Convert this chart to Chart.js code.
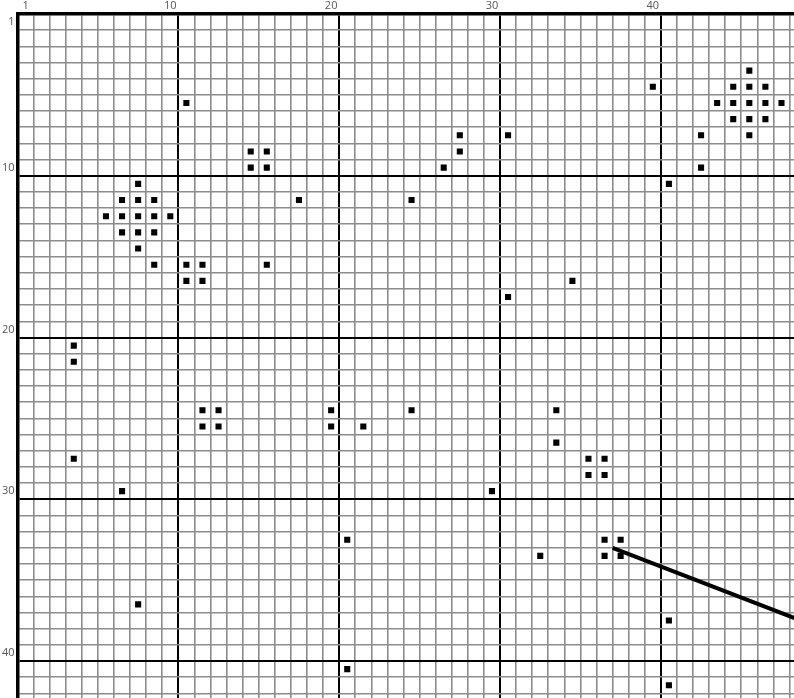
<!DOCTYPE html>
<html>
<head>
<meta charset="utf-8">
<script src="https://cdn.jsdelivr.net/npm/chart.js@4"></script>
<style>
html, body { margin: 0; padding: 0; background: #fff; overflow: hidden; }
canvas { display: block; }
</style>
</head>
<body>
<canvas id="patternChart" width="826" height="730"></canvas>
<script>
// stitches: column and row of every filled cell (counted from 1)
const stitchCols = [46, 40, 45, 46, 47, 11, 44, 45, 46, 47, 48, 45, 46, 47, 28, 31, 43, 46,
    15, 16, 28, 15, 16, 27, 43, 8, 41, 7, 8, 9, 18, 25, 6, 7, 8, 9, 10, 7, 8, 9, 8,
    9, 11, 12, 16, 11, 12, 35, 31, 4, 4, 12, 13, 20, 25, 34, 12, 13, 20, 22, 34,
    4, 36, 37, 36, 37, 7, 30, 21, 37, 38, 33, 37, 38, 8, 41, 21, 41];
const stitchRows = [4, 5, 5, 5, 5, 6, 6, 6, 6, 6, 6, 7, 7, 7, 8, 8, 8, 8,
    9, 9, 9, 10, 10, 10, 10, 11, 11, 12, 12, 12, 12, 12, 13, 13, 13, 13, 13, 14, 14, 14, 15,
    16, 16, 16, 16, 17, 17, 17, 18, 21, 22, 25, 25, 25, 25, 25, 26, 26, 26, 26, 27,
    28, 28, 28, 29, 29, 30, 30, 33, 33, 33, 34, 34, 34, 37, 38, 41, 42];

// back-stitch line (x.5 = edge between two cells)
const lineCols = [37.5, 50.5];
const lineRows = [33.5, 38.5];

// numbers printed along the edges
const colLabels = [1, 10, 20, 30, 40];
const rowLabels = [1, 10, 20, 30, 40];
const colCount = 50;
const rowCount = 44;

function halfSteps(count) {
    const out = [];
    for (let i = 1; i <= count * 2 + 1; i++) out.push({ value: i * 0.5 });
    return out;
}

function gridColor(ctx) {
    const v = ctx.tick.value;
    if (v % 1 === 0) return 'rgba(0,0,0,0)';
    return ((v - 0.5) % 10 === 0) ? '#000' : '#8c8c8c';
}

function gridWidth(ctx) {
    const v = ctx.tick.value;
    if (v % 1 === 0) return 1;
    return ((v - 0.5) % 10 === 0) ? 2 : 1.6;
}

const ctx = document.getElementById('patternChart').getContext('2d');
new Chart(ctx, {
    type: 'scatter',
    data: {
        datasets: [
            {
                label: 'Stitches',
                data: stitchCols.map((c, i) => ({ x: c, y: stitchRows[i] })),
                pointStyle: 'rect',
                pointRadius: 4.3,
                pointBackgroundColor: '#000',
                pointBorderWidth: 0
            },
            {
                label: 'Back stitch',
                data: lineCols.map((c, i) => ({ x: c, y: lineRows[i] })),
                showLine: true,
                borderColor: '#000',
                borderWidth: 4,
                pointRadius: 0
            }
        ]
    },
    options: {
        responsive: false,
        animation: false,
        events: [],
        layout: { padding: 0 },
        plugins: {
            legend: { display: false },
            tooltip: { enabled: false }
        },
        scales: {
            x: {
                type: 'linear',
                position: 'top',
                min: 0.5,
                max: colCount + 0.5,
                afterBuildTicks: (scale) => { scale.ticks = halfSteps(colCount); },
                afterFit: (scale) => {
                    scale.height = 14;
                    scale.paddingLeft = 0;
                    scale.paddingRight = 0;
                },
                ticks: {
                    autoSkip: false,
                    maxRotation: 0,
                    padding: 2,
                    color: '#555',
                    font: { family: 'Open Sans', size: 11 },
                    callback: (v) => colLabels.includes(v) ? String(v) : ''
                },
                grid: {
                    drawTicks: false,
                    color: gridColor,
                    lineWidth: gridWidth
                },
                border: { display: true, color: '#000', width: 3.5 }
            },
            y: {
                type: 'linear',
                position: 'left',
                reverse: true,
                min: 0.5,
                max: rowCount + 0.5,
                afterBuildTicks: (scale) => { scale.ticks = halfSteps(rowCount); },
                afterFit: (scale) => {
                    scale.width = 17.5;
                    scale.paddingTop = 0;
                    scale.paddingBottom = 0;
                },
                ticks: {
                    autoSkip: false,
                    padding: 3,
                    color: '#555',
                    font: { family: 'Open Sans', size: 11 },
                    callback: (v) => rowLabels.includes(v) ? String(v) : ''
                },
                grid: {
                    drawTicks: false,
                    color: gridColor,
                    lineWidth: gridWidth
                },
                border: { display: true, color: '#000', width: 3.5 }
            }
        }
    }
});
</script>
</body>
</html>
